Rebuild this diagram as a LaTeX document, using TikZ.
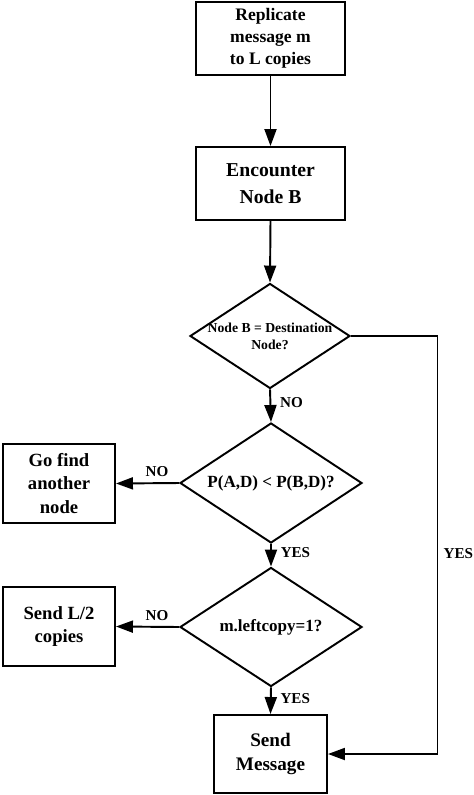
\documentclass[tikz,border=0pt]{standalone}
\usepackage{fontspec}
\setmainfont{Liberation Serif}
\usepackage{tikz}
\usetikzlibrary{arrows.meta, positioning, shapes.geometric}

\begin{document}
\begin{tikzpicture}[
        % Style for process boxes
        process/.style={draw, line width=1.1pt, rectangle, minimum width=2.98cm, minimum height=1.46cm, align=center, font=\bfseries\fontsize{10}{12.6}\selectfont},
        side/.style={draw, line width=1.1pt, rectangle, minimum width=2.24cm, minimum height=1.58cm, align=center, font=\bfseries\fontsize{10.6}{13.4}\selectfont},
        % Style for decision diamonds
        decision/.style={draw, line width=1.1pt, diamond, minimum width=3.64cm, minimum height=2.4cm, inner sep=0pt},
        dtext/.style={align=center, font=\bfseries\fontsize{9.7}{11.6}\selectfont},
        lbl/.style={font=\bfseries\fontsize{8.6}{10}\selectfont, inner sep=2pt},
        arrow/.style={-{Triangle[length=0.34cm, width=0.24cm]}, line width=1.1pt}
    ]
    \useasboundingbox (0,0) rectangle (9.48,-15.9);

    % Main column
    \node[process] at (5.41, -0.77) (replicate) {Replicate\\ message m\\ to L copies};
    \node[process, font=\bfseries\fontsize{11.2}{15.4}\selectfont] at (5.41, -3.67) (encounter) {Encounter\\ Node B};
    \node[decision, minimum width=3.2cm, minimum height=2.1cm,
        label={[dtext, font=\bfseries\fontsize{7.8}{9.7}\selectfont]center:Node B = Destination\\ Node?}] at (5.4, -6.72) (dest) {};
    \node[decision, label={[dtext]center:P(A,D) < P(B,D)?}] at (5.42, -9.66) (compare) {};
    \node[decision, minimum height=2.38cm, label={[dtext]center:m.leftcopy=1?}] at (5.42, -12.54) (leftcopy) {};
    \node[side, minimum width=2.26cm, minimum height=1.56cm, font=\bfseries\fontsize{10.9}{13.6}\selectfont] at (5.41, -15.08) (send) {Send\\ Message};

    % Side boxes
    \node[side] at (1.18, -9.67) (another) {Go find\\ another\\ node};
    \node[side] at (1.18, -12.53) (half) {Send L/2\\ copies};

    \coordinate (corner) at (8.75, -6.72);

    % Arrows down the main column
    \draw[arrow] (replicate.south) -- (encounter.north);
    \draw[arrow] (encounter.south) -- (dest.north);
    \draw[arrow] (dest.south) -- node[lbl, right=3pt, pos=0.4] {NO} (compare.north);
    \draw[arrow] (compare.south) -- node[lbl, right=3pt, pos=0.4] {YES} (leftcopy.north);
    \draw[arrow] (leftcopy.south) -- node[lbl, right=3pt, pos=0.4] {YES} (send.north);

    % Arrows to the side boxes
    \draw[arrow] (compare.west) -- node[lbl, above=1pt, pos=0.35] {NO} (another.east);
    \draw[arrow] (leftcopy.west) -- node[lbl, above=1pt, pos=0.35] {NO} (half.east);

    % Destination reached
    \draw[arrow] (dest.east) -- (corner) |- node[lbl, right=1pt, pos=0.26] {YES} (send.east);
\end{tikzpicture}
\end{document}
